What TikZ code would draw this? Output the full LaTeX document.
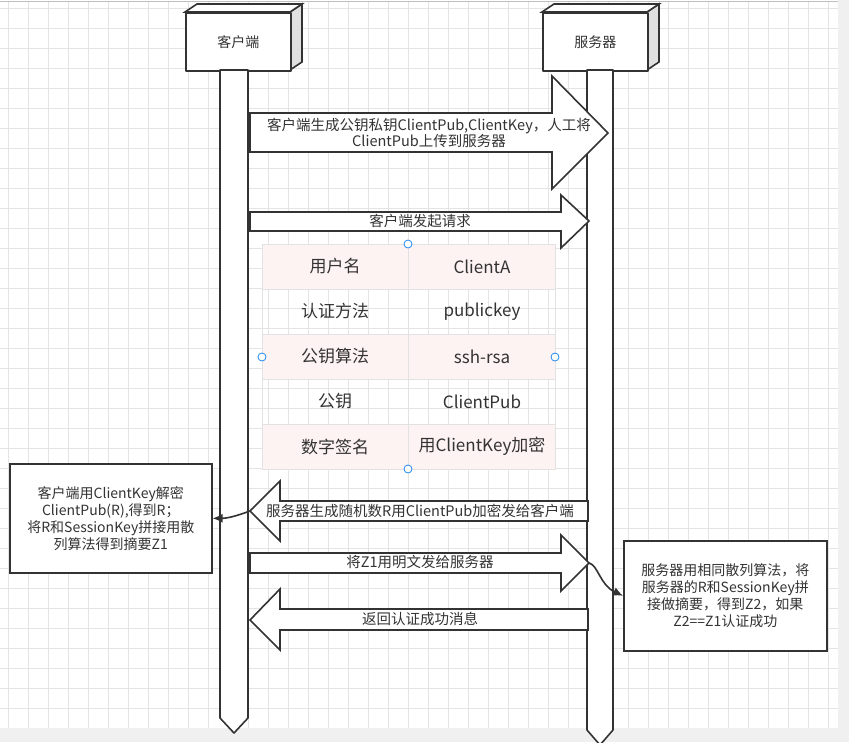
\documentclass[tikz,border=0pt]{standalone}
\usepackage{fontspec}
\setmainfont{Noto Sans CJK SC}
\usetikzlibrary{arrows.meta}
\definecolor{ink}{HTML}{333333}
\definecolor{gridc}{HTML}{E4E4E4}
\definecolor{side}{HTML}{E0E0E0}
\definecolor{rowpink}{HTML}{FDF3F2}
\definecolor{cellline}{HTML}{E2E2E2}
\definecolor{handle}{HTML}{2288EE}
\tikzset{
  shape3d/.style={draw=ink, line width=1.6pt, line join=round},
  life/.style={draw=ink, line width=1.6pt, fill=white, line join=round},
  blockarrow/.style={draw=ink, line width=1.6pt, fill=white, line join=miter},
  lbl/.style={font=\fontsize{14.5}{16}\selectfont, text=ink, align=center, inner sep=0pt},
  cell/.style={font=\fontsize{17}{19}\selectfont, text=ink},
  note/.style={draw=ink, line width=1.6pt, fill=white, align=center,
               font=\fontsize{14}{17}\selectfont, text=ink},
  link/.style={draw=ink, line width=1.6pt, -{Latex[length=10pt,width=9pt]}},
  dot/.style={circle, draw=handle, fill=white, line width=0.8pt, minimum size=8pt, inner sep=0pt},
}
\begin{document}
\begin{tikzpicture}[x=1pt,y=-1pt]
\useasboundingbox (0,0) rectangle (849,742);
% background grid
\fill[white] (0,0) rectangle (849,742);
\foreach \g in {0,20,...,820} \draw[gridc, line width=0.8pt] (\g+8,2) -- (\g+8,728);
\foreach \g in {0,20,...,720} \draw[gridc, line width=0.8pt] (0,\g+8) -- (838,\g+8);
\fill[gray!12] (0,728) rectangle (849,742);
\fill[gray!12] (838,0) rectangle (849,742);
\draw[gray!50, line width=1pt] (0,1) -- (838,1);

% participants
\foreach \x/\name/\txt in {185/client/客户端, 542/server/服务器}{
  \fill[side, draw=ink, line width=1.6pt] (\x+105,12) -- (\x+117,4) -- (\x+117,62) -- (\x+105,70) -- cycle;
  \fill[white, draw=ink, line width=1.6pt] (\x,12) -- (\x+12,4) -- (\x+117,4) -- (\x+105,12) -- cycle;
  \node[shape3d, fill=white, minimum width=105pt, minimum height=58pt, anchor=north west,
        font=\fontsize{14}{16}\selectfont, text=ink] (\name) at (\x,12) {\txt};
}

% lifelines
\draw[life] (220,70) -- (248,70) -- (248,718) -- (234,733) -- (220,718) -- cycle;
\draw[life] (587,70) -- (613,70) -- (613,730) -- (600,745) -- (587,730) -- cycle;

% message 1
\draw[blockarrow] (250,113) -- (552,113) -- (552,76) -- (608,133) -- (552,189) -- (552,152) -- (250,152) -- cycle;
\node[lbl] (m1) at (429,133) {客户端生成公钥私钥ClientPub,ClientKey，人工将\\ClientPub上传到服务器};

% message 2
\draw[blockarrow] (250,212) -- (561,212) -- (561,195) -- (589,221) -- (561,248) -- (561,231) -- (250,231) -- cycle;
\node[lbl] (m2) at (420,221) {客户端发起请求};

% table
\foreach \i/\a/\b in {0/用户名/ClientA, 1/认证方法/publickey, 2/公钥算法/ssh-rsa, 3/公钥/ClientPub, 4/数字签名/用ClientKey加密}{
  \pgfmathtruncatemacro{\odd}{mod(\i,2)}
  \ifnum\odd=0
    \fill[rowpink] (262,244+45*\i) rectangle (555,289+45*\i);
  \fi
  \node[cell] (ka\i) at (335,266.5+45*\i) {\a};
  \node[cell] (kb\i) at (482,266.5+45*\i) {\b};
}
\foreach \r in {289,334,379,424} \draw[cellline, line width=0.8pt] (262,\r) -- (555,\r);
\draw[cellline, line width=0.8pt] (408,244) -- (408,469);
\draw[cellline, line width=0.8pt] (262,244) rectangle (555,469);
\node[dot] (h1) at (408,244) {};
\node[dot] (h2) at (408,469) {};
\node[dot] (h3) at (262,357) {};
\node[dot] (h4) at (555,357) {};

% message 3
\draw[blockarrow] (588,501) -- (280,501) -- (280,481) -- (250,511) -- (280,541) -- (280,521) -- (588,521) -- cycle;
\coordinate (t3) at (250,511);
\node[lbl] (m3) at (420,511) {服务器生成随机数R用ClientPub加密发给客户端};

% message 4
\draw[blockarrow] (250,553) -- (561,553) -- (561,535) -- (589,563) -- (561,591) -- (561,573) -- (250,573) -- cycle;
\coordinate (t4) at (589,563);
\node[lbl] (m4) at (420,562) {将Z1用明文发给服务器};

% message 5
\draw[blockarrow] (588,609) -- (280,609) -- (280,589) -- (250,620) -- (280,650) -- (280,630) -- (588,630) -- cycle;
\node[lbl] (m5) at (420,619) {返回认证成功消息};

% notes
\node[note, minimum width=202pt, minimum height=109pt, anchor=north west] (cnote) at (9,463)
  {客户端用ClientKey解密\\ClientPub(R),得到R；\\将R和SessionKey拼接用散\\列算法得到摘要Z1};
\node[note, minimum width=203pt, minimum height=110pt, anchor=north west] (snote) at (623,540)
  {服务器用相同散列算法，将\\服务器的R和SessionKey拼\\接做摘要，得到Z2，如果\\Z2==Z1认证成功};

\draw[link] (t3) to[out=200, in=0] (cnote.east);
\draw[link] (t4) .. controls (598,565) and (600,585) .. (snote.west);
\end{tikzpicture}
\end{document}
